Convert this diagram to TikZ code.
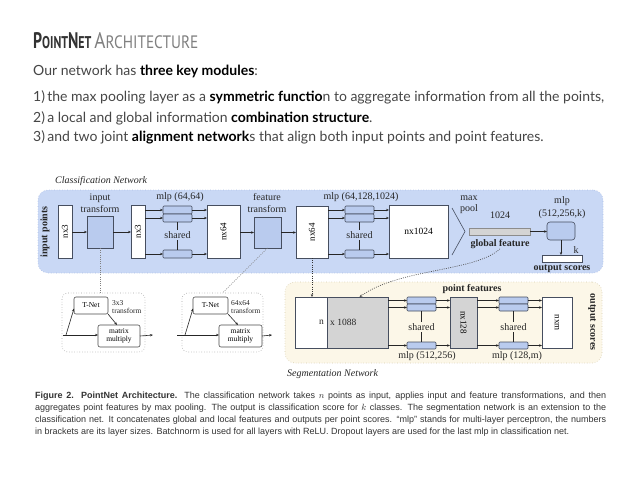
\documentclass[tikz,border=0pt]{standalone}
\usepackage{fontspec}
\setmainfont{Lato}
\newfontfamily\seriffam{Liberation Serif}
\newfontfamily\capfam{Liberation Sans}
\newfontfamily\titlefam{PT Sans}
\usetikzlibrary{arrows.meta,calc}
\definecolor{clsbg}{RGB}{201,216,245}
\definecolor{clsedge}{RGB}{170,190,230}
\definecolor{segbg}{RGB}{252,247,232}
\definecolor{segedge}{RGB}{215,205,175}
\definecolor{boxline}{RGB}{70,78,95}
\definecolor{smallfill}{RGB}{185,203,238}
\definecolor{grayfill}{RGB}{212,212,212}
\definecolor{txt}{RGB}{70,70,70}
\tikzset{
  box/.style={draw=boxline, line width=0.6pt, inner sep=0pt, outer sep=0pt, anchor=north west,
    font=\seriffam\fontsize{9}{10}\selectfont},
  wbox/.style={box, fill=white},
  sbox/.style={box, fill=smallfill, rounded corners=1pt},
  gbox/.style={box, fill=grayfill},
  tbox/.style={box, fill=white, draw=black!70, rounded corners=2pt, align=center,
    font=\seriffam\fontsize{7.5}{8.5}\selectfont},
  lab/.style={font=\seriffam\fontsize{10}{12}\selectfont, inner sep=0pt, align=center, text=black!85},
  blab/.style={lab, font=\seriffam\bfseries\fontsize{10}{12}\selectfont},
  ilab/.style={lab, font=\seriffam\itshape\fontsize{10}{12}\selectfont},
  slab/.style={lab, font=\seriffam\fontsize{7.5}{8.5}\selectfont, align=left},
  shr/.style={lab, inner sep=1.5pt},
  arr/.style={-{Stealth[length=3pt,width=2.4pt]}, line width=0.6pt, black!85},
  ln/.style={line width=0.6pt, black!85},
  dotc/.style={gray, line width=0.6pt, dash pattern=on 1pt off 1.2pt},
  region/.style={inner sep=0pt, outer sep=0pt, anchor=north west, rounded corners=10pt},
  grp/.style={region, rounded corners=6pt, draw=black!35, dotted, line width=0.6pt},
  body/.style={font=\fontsize{14}{16}\selectfont, text=txt, inner sep=0pt, anchor=base west}
}
\begin{document}
\begin{tikzpicture}[x=1pt,y=-1pt]
\useasboundingbox (0,0) rectangle (638,479);
\fill[white] (0,0) rectangle (638,479);

% ---------- title and text ----------
\node[anchor=base west, inner sep=0pt] (title) at (33,48) {\titlefam
  \scalebox{0.7}[1]{\bfseries\color{black!80}\fontsize{22.5}{22}\selectfont P\fontsize{17}{17}\selectfont OINT\fontsize{22.5}{22}\selectfont N\fontsize{17}{17}\selectfont ET}\hspace{3pt}%
  \scalebox{0.85}[1]{\color{black!50}\fontsize{22.5}{22}\selectfont A\fontsize{18}{18}\selectfont RCHITECTURE}};
\node[body] (l0) at (33,75) {Our network has \textbf{\color{black}three key modules}:};
\node[body] (l1) at (33,101) {1)\,the max pooling layer as a \textbf{\color{black}symmetric functio}n to aggregate information from all the points,};
\node[body] (l2) at (33,122) {2)\,a local and global information \textbf{\color{black}combination structure}.};
\node[body] (l3) at (33,141) {3)\,and two joint \textbf{\color{black}alignment network}s that align both input points and point features.};

% ---------- classification network ----------
\node[ilab, anchor=west] (clsname) at (55,181) {Classification Network};
\node[region, fill=clsbg, draw=clsedge, dotted, line width=0.6pt, minimum width=565pt, minimum height=83pt] (cls) at (38,190) {};
\node[blab, rotate=90] (inpts) at (45,232) {input points};

\node[wbox, minimum width=14pt, minimum height=53pt] (n1) at (58,205) {\rotatebox{90}{nx3}};
\node[lab] (itlab) at (100,203) {input\\transform};
\node[box, fill=smallfill, minimum width=26pt, minimum height=32pt] (it) at (87,216) {};
\node[wbox, minimum width=14pt, minimum height=53pt] (n2) at (131,205) {\rotatebox{90}{nx3}};
\node[lab] (mlp1) at (180,197) {mlp (64,64)};
\node[sbox, minimum width=29pt, minimum height=8pt] (m1a) at (163,206) {};
\node[sbox, minimum width=29pt, minimum height=8pt] (m1b) at (163,214) {};
\node[sbox, minimum width=29pt, minimum height=8pt] (m1c) at (163,250) {};
\node[shr] (sh1) at (177.5,235) {shared};
\node[wbox, minimum width=33pt, minimum height=53pt] (n3) at (207,205) {\rotatebox{90}{nx64}};
\node[lab] (ftlab) at (267,203) {feature\\transform};
\node[box, fill=smallfill, minimum width=27pt, minimum height=31pt] (ft) at (254,217) {};
\node[wbox, minimum width=32pt, minimum height=52pt] (n4) at (296,206) {\rotatebox{90}{nx64}};
\node[lab] (mlp2) at (361,197) {mlp (64,128,1024)};
\node[sbox, minimum width=29pt, minimum height=8pt] (m2a) at (345,206) {};
\node[sbox, minimum width=29pt, minimum height=8pt] (m2b) at (345,214) {};
\node[sbox, minimum width=29pt, minimum height=8pt] (m2c) at (345,250) {};
\node[shr] (sh2) at (359.5,235) {shared};
\node[wbox, minimum width=59pt, minimum height=53pt, font=\seriffam\fontsize{9.5}{10}\selectfont] (n5) at (389,205) {nx1024};
\node[lab, font=\seriffam\fontsize{10}{11}\selectfont] (mp) at (469,205) {max\\pool};
\node[lab] (k1024) at (500,215) {1024};
\node[box, fill=grayfill, draw=black!45, minimum width=61pt, minimum height=7pt] (gf) at (469,228) {};
\node[blab] (gfl) at (500,244) {global feature};
\node[lab, font=\seriffam\fontsize{10}{13}\selectfont] (mlp3) at (562,208) {mlp\\(512,256,k)};
\node[box, fill=smallfill, rounded corners=3pt, minimum width=28pt, minimum height=18pt] (cm) at (547,222) {};
\node[wbox, minimum width=40pt, minimum height=7pt] (os) at (542,255) {};
\node[lab] (klab) at (576,250) {k};
\node[blab] (osl) at (562,269) {output scores};

\draw[arr] (n1.east |- it.west) -- (it.west);
\draw[arr] (it.east) -- (it.east -| n2.west);
\foreach \b in {m1a,m1b,m1c}{
  \draw[arr] (n2.east |- \b.west) -- (\b.west);
  \draw[arr] (\b.east) -- (\b.east -| n3.west);
}
\draw[ln] (m1b.south) -- (sh1.north);
\draw[ln] (sh1.south) -- (m1c.north);
\draw[arr] (n3.east |- ft.west) -- (ft.west);
\draw[arr] (ft.east) -- (ft.east -| n4.west);
\foreach \b in {m2a,m2b,m2c}{
  \draw[arr] (n4.east |- \b.west) -- (\b.west);
  \draw[arr] (\b.east) -- (\b.east -| n5.west);
}
\draw[ln] (m2b.south) -- (sh2.north);
\draw[ln] (sh2.south) -- (m2c.north);
\draw[ln, boxline] ($(n5.north east)+(4,3)$) -- ($(n5.east)+(17,0)$) -- ($(n5.south east)+(4,-3)$);
\draw[arr] (gf.east) -- (gf.east -| cm.west);
\draw[arr] (cm.south) -- (cm.south |- os.north);

% ---------- T-Net groups ----------
\node[grp, minimum width=83pt, minimum height=59pt] (g1) at (62,293) {};
\node[tbox, minimum width=34pt, minimum height=17pt] (tn1) at (74,297) {T-Net};
\node[tbox, minimum width=42pt, minimum height=22pt] (mm1) at (98,325) {matrix\\multiply};
\node[slab, anchor=west] (t1lab) at (112,307) {3x3\\transform};
\coordinate (in1) at (63,335);
\coordinate (br1) at (66,335);
\coordinate (out1) at (153,335);
\draw[arr] (in1) -- (in1 -| mm1.west);
\draw[arr] (br1) -- ($(tn1.west)+(0,3)$);
\draw[arr] (tn1.south east) -- ($(mm1.north west)+(19,0)$);
\draw[arr] (mm1.east) -- (out1);

\node[grp, minimum width=81pt, minimum height=59pt] (g2) at (182,293) {};
\node[tbox, minimum width=35pt, minimum height=17pt] (tn2) at (193,297) {T-Net};
\node[tbox, minimum width=43pt, minimum height=22pt] (mm2) at (219,325) {matrix\\multiply};
\node[slab, anchor=west] (t2lab) at (231,307) {64x64\\transform};
\coordinate (in2) at (177,335);
\coordinate (br2) at (185,335);
\coordinate (out2) at (272,335);
\draw[arr] (in2) -- (in2 -| mm2.west);
\draw[arr] (br2) -- ($(tn2.west)+(0,3)$);
\draw[arr] (tn2.south east) -- ($(mm2.north west)+(19,0)$);
\draw[arr] (mm2.east) -- (out2);

% ---------- segmentation network ----------
\node[region, fill=segbg, draw=segedge, dotted, line width=0.6pt, minimum width=317pt, minimum height=81pt] (seg) at (285,282) {};
\node[blab] (pf) at (472,289) {point features};
\node[wbox, minimum width=32pt, minimum height=51pt] (sw) at (295,297) {};
\node[gbox, minimum width=61pt, minimum height=51pt] (sg) at (327,297) {};
\node[lab, font=\seriffam\fontsize{9.5}{10}\selectfont, anchor=east] (nlab) at ($(sw.east)+(-3,0)$) {n};
\node[lab, font=\seriffam\fontsize{9.5}{10}\selectfont, anchor=west] (xlab) at ($(sg.west)+(3,0)$) {x 1088};
\node[sbox, minimum width=29pt, minimum height=7pt] (s1a) at (407,297) {};
\node[sbox, minimum width=29pt, minimum height=7pt] (s1b) at (407,304) {};
\node[sbox, minimum width=29pt, minimum height=7pt] (s1c) at (407,342) {};
\node[shr] (sh3) at (421.5,327) {shared};
\node[lab] (mlp4) at (427,356) {mlp (512,256)};
\node[gbox, minimum width=27pt, minimum height=51pt] (sn) at (450,297) {\rotatebox{-90}{nx128}};
\node[sbox, minimum width=29pt, minimum height=7pt] (s2a) at (499,297) {};
\node[sbox, minimum width=29pt, minimum height=7pt] (s2b) at (499,304) {};
\node[sbox, minimum width=29pt, minimum height=7pt] (s2c) at (499,342) {};
\node[shr] (sh4) at (513.5,327) {shared};
\node[lab] (mlp5) at (517,356) {mlp (128,m)};
\node[wbox, minimum width=30pt, minimum height=51pt] (sm) at (542,297) {\rotatebox{-90}{nxm}};
\node[blab, rotate=-90] (osl2) at (592,322) {output scores};
\node[ilab, anchor=west] (segname) at (287,374) {Segmentation Network};

\foreach \b in {s1a,s1b,s1c}{
  \draw[arr] (sg.east |- \b.west) -- (\b.west);
  \draw[arr] (\b.east) -- (\b.east -| sn.west);
}
\draw[ln] (s1b.south) -- (sh3.north);
\draw[ln] (sh3.south) -- (s1c.north);
\foreach \b in {s2a,s2b,s2c}{
  \draw[arr] (sn.east |- \b.west) -- (\b.west);
  \draw[arr] (\b.east) -- (\b.east -| sm.west);
}
\draw[ln] (s2b.south) -- (sh4.north);
\draw[ln] (sh4.south) -- (s2c.north);

% ---------- dotted links ----------
\draw[dotc] (it.south) -- (it.south |- g1.north);
\draw[dotc] (ft.south) -- (g2.north);
\draw[dotc, black!80, -{Stealth[length=3pt,width=2.4pt]}] (n4.south) -- (n4.south |- sw.north);
\draw[dotc, black!70, -{Stealth[length=3pt,width=2.4pt]}] (gfl.south) .. controls (475,272) and (400,268) .. ($(sg.north)+(2,0)$);

% ---------- caption ----------
\node[anchor=north west, inner sep=0pt, text width=571pt, align=justify,
  font=\capfam\fontsize{9}{12}\selectfont, text=black!80] (cap) at (35,392)
 {\hyphenpenalty=10000\relax\exhyphenpenalty=10000\relax\textbf{Figure 2. PointNet Architecture.} The classification network takes $n$ points as input, applies input and feature transformations, and then\linebreak aggregates point features by max pooling. The output is classification score for $k$ classes. The segmentation network is an extension to the\linebreak classification net. It concatenates global and local features and outputs per point scores. “mlp” stands for multi-layer perceptron, the numbers\linebreak in brackets are its layer sizes. Batchnorm is used for all layers with ReLU. Dropout layers are used for the last mlp in classification net.};
\end{tikzpicture}
\end{document}
